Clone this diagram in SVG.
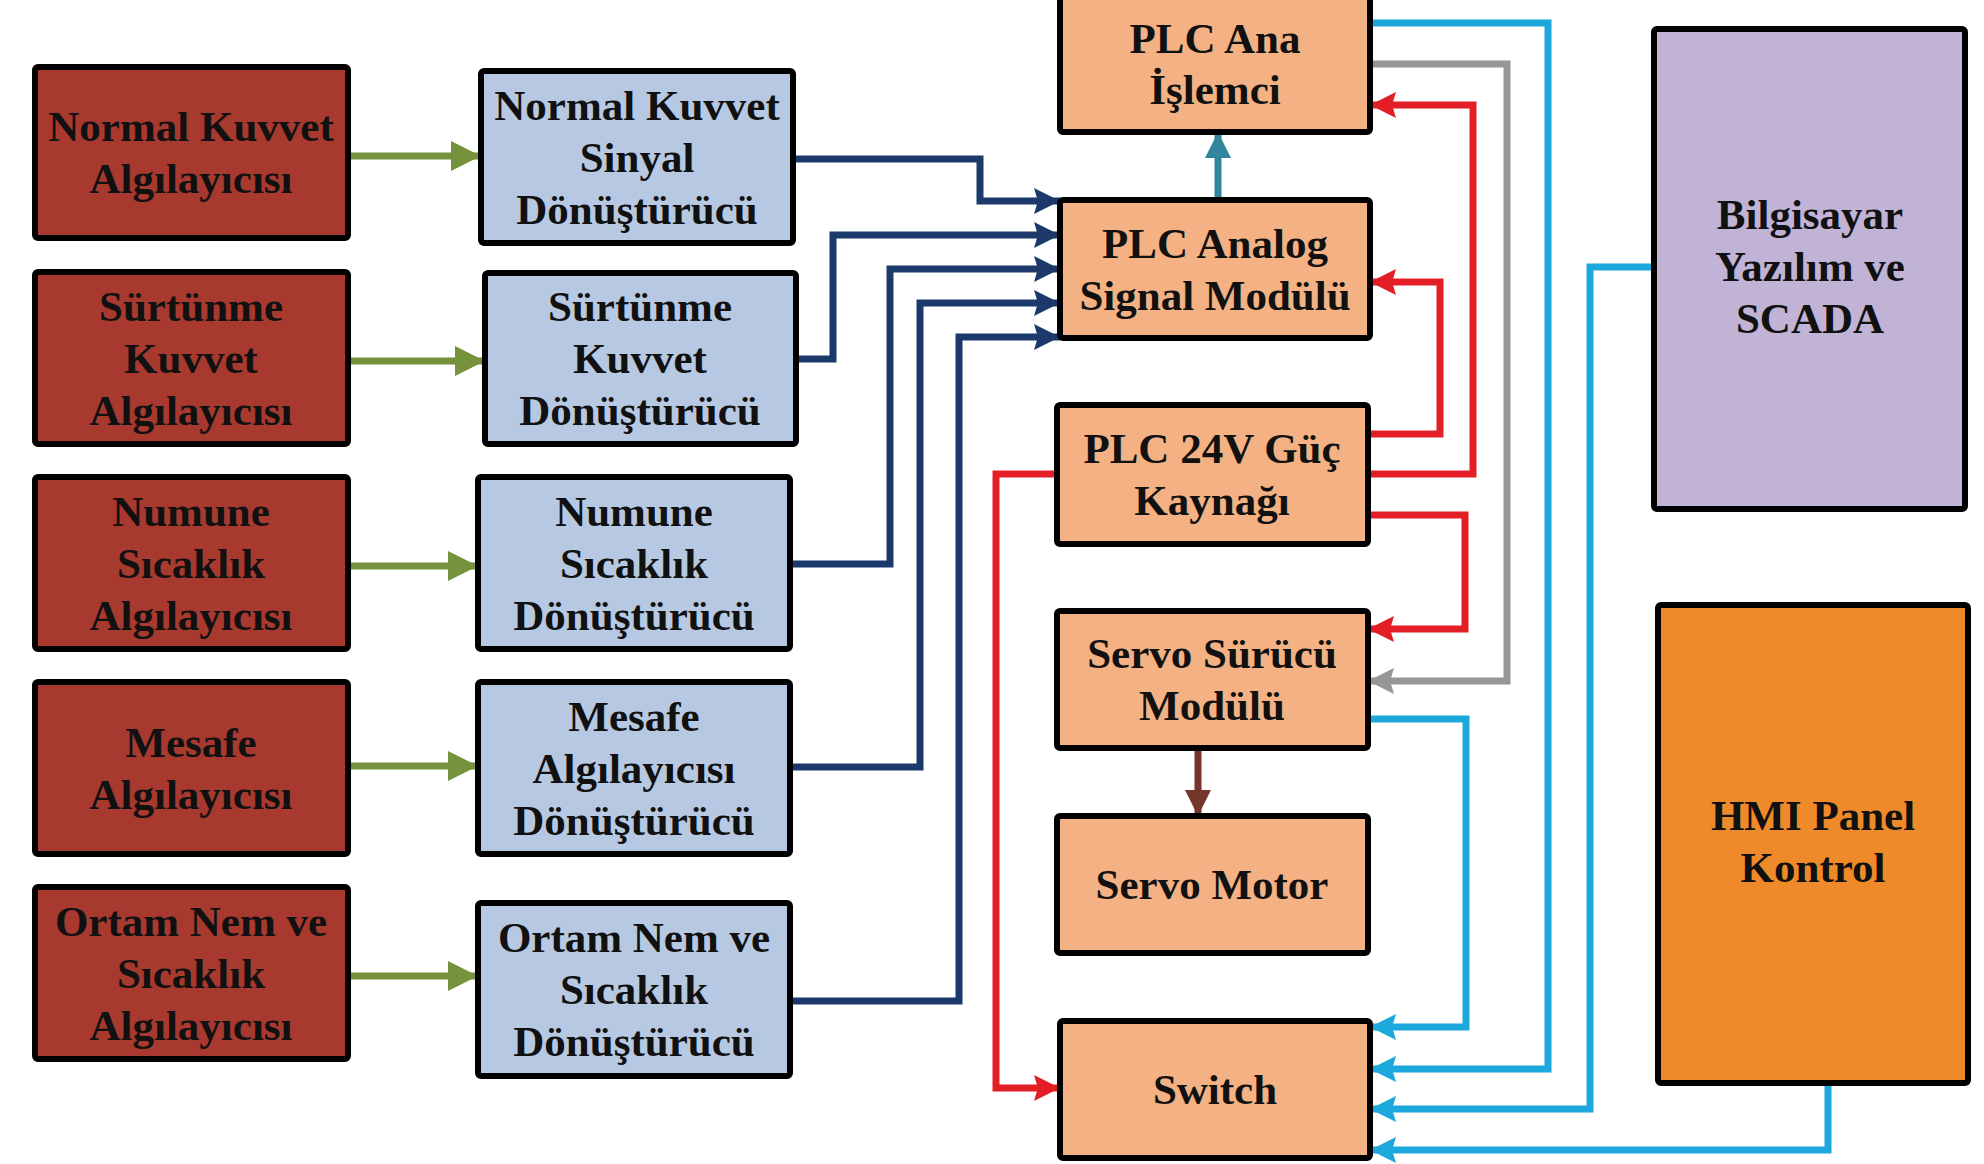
<svg xmlns="http://www.w3.org/2000/svg" width="1984" height="1164" viewBox="0 0 1984 1164">
<style>
  .box { stroke: #000; stroke-width: 6; }
  .red { fill: #A8392F; }
  .blue { fill: #B7C9E2; }
  .org { fill: #F4B183; }
  .pur { fill: #C1B3D6; }
  .hmi { fill: #EF8A2A; }
  text { font-family: "Liberation Serif", "Times New Roman", serif; font-weight: bold; font-size: 43px; fill: #111; text-anchor: middle; }
  .ln { fill: none; stroke-width: 7; stroke-linejoin: miter; }
</style>
<defs>
  <marker id="aGreen" markerUnits="userSpaceOnUse" viewBox="0 0 10 10" refX="10" refY="5" markerWidth="44" markerHeight="30" orient="auto"><path d="M0,0 L10,5 L0,10 z" fill="#76923C"/></marker>
  <marker id="aNavy" markerUnits="userSpaceOnUse" viewBox="0 0 10 10" refX="10" refY="5" markerWidth="36" markerHeight="26" orient="auto"><path d="M0,0 L10,5 L0,10 L1.5,5 z" fill="#1B3A6B"/></marker>
  <marker id="aRed" markerUnits="userSpaceOnUse" viewBox="0 0 10 10" refX="10" refY="5" markerWidth="36" markerHeight="26" orient="auto"><path d="M0,0 L10,5 L0,10 L1.5,5 z" fill="#E41E26"/></marker>
  <marker id="aGray" markerUnits="userSpaceOnUse" viewBox="0 0 10 10" refX="10" refY="5" markerWidth="36" markerHeight="26" orient="auto"><path d="M0,0 L10,5 L0,10 L1.5,5 z" fill="#969696"/></marker>
  <marker id="aLBlue" markerUnits="userSpaceOnUse" viewBox="0 0 10 10" refX="10" refY="5" markerWidth="36" markerHeight="26" orient="auto"><path d="M0,0 L10,5 L0,10 L1.5,5 z" fill="#1CA8DD"/></marker>
  <marker id="aTeal" markerUnits="userSpaceOnUse" viewBox="0 0 10 10" refX="10" refY="5" markerWidth="34" markerHeight="26" orient="auto"><path d="M0,0 L10,5 L0,10 z" fill="#31859C"/></marker>
  <marker id="aBrown" markerUnits="userSpaceOnUse" viewBox="0 0 10 10" refX="10" refY="5" markerWidth="34" markerHeight="26" orient="auto"><path d="M0,0 L10,5 L0,10 z" fill="#76352A"/></marker>
</defs>

<g id="connectors">
  <!-- green sensor -> converter -->
  <g stroke="#76923C" class="ln" stroke-width="8">
    <path d="M348,156 H481" marker-end="url(#aGreen)"/>
    <path d="M348,361 H485" marker-end="url(#aGreen)"/>
    <path d="M348,566 H478" marker-end="url(#aGreen)"/>
    <path d="M348,766 H478" marker-end="url(#aGreen)"/>
    <path d="M348,976 H478" marker-end="url(#aGreen)"/>
  </g>
  <!-- navy converter -> PLC analog -->
  <g stroke="#1B3A6B" class="ln">
    <path d="M793,159 H980 V201 H1060" marker-end="url(#aNavy)"/>
    <path d="M796,359 H833 V235 H1060" marker-end="url(#aNavy)"/>
    <path d="M790,564 H890 V269 H1060" marker-end="url(#aNavy)"/>
    <path d="M790,767 H920 V303 H1060" marker-end="url(#aNavy)"/>
    <path d="M790,1001 H959 V337 H1060" marker-end="url(#aNavy)"/>
  </g>
  <!-- teal analog -> main -->
  <path d="M1218,200 V132" stroke="#31859C" class="ln" marker-end="url(#aTeal)"/>
  <!-- brown servo driver -> motor -->
  <path d="M1198,748 V816" stroke="#76352A" class="ln" marker-end="url(#aBrown)"/>
  <!-- red power -->
  <g stroke="#E41E26" class="ln">
    <path d="M1368,434 H1440 V282 H1370" marker-end="url(#aRed)"/>
    <path d="M1368,474 H1473 V105 H1370" marker-end="url(#aRed)"/>
    <path d="M1368,515 H1465 V629 H1368" marker-end="url(#aRed)"/>
    <path d="M1057,474 H996 V1088 H1060" marker-end="url(#aRed)"/>
  </g>
  <!-- gray -->
  <path d="M1370,64 H1507 V681 H1368" stroke="#969696" class="ln" marker-end="url(#aGray)"/>
  <!-- light blue network -->
  <g stroke="#1CA8DD" class="ln">
    <path d="M1370,23 H1548 V1069 H1370" marker-end="url(#aLBlue)"/>
    <path d="M1368,719 H1466 V1027 H1370" marker-end="url(#aLBlue)"/>
    <path d="M1654,267 H1590 V1109 H1370" marker-end="url(#aLBlue)"/>
    <path d="M1828,1083 V1150 H1370" marker-end="url(#aLBlue)"/>
  </g>
</g>

<g id="s1"><rect class="box red" x="35" y="67" width="313" height="171" rx="3"/><text x="191" y="141">Normal Kuvvet</text><text x="191" y="193">Algılayıcısı</text></g>
<g id="s2"><rect class="box red" x="35" y="272" width="313" height="172" rx="3"/><text x="191" y="321">Sürtünme</text><text x="191" y="373">Kuvvet</text><text x="191" y="425">Algılayıcısı</text></g>
<g id="s3"><rect class="box red" x="35" y="477" width="313" height="172" rx="3"/><text x="191" y="526">Numune</text><text x="191" y="578">Sıcaklık</text><text x="191" y="630">Algılayıcısı</text></g>
<g id="s4"><rect class="box red" x="35" y="682" width="313" height="172" rx="3"/><text x="191" y="757">Mesafe</text><text x="191" y="809">Algılayıcısı</text></g>
<g id="s5"><rect class="box red" x="35" y="887" width="313" height="172" rx="3"/><text x="191" y="936">Ortam Nem ve</text><text x="191" y="988">Sıcaklık</text><text x="191" y="1040">Algılayıcısı</text></g>

<g id="c1"><rect class="box blue" x="481" y="71" width="312" height="172" rx="3"/><text x="637" y="120">Normal Kuvvet</text><text x="637" y="172">Sinyal</text><text x="637" y="224">Dönüştürücü</text></g>
<g id="c2"><rect class="box blue" x="485" y="273" width="311" height="171" rx="3"/><text x="640" y="321">Sürtünme</text><text x="640" y="373">Kuvvet</text><text x="640" y="425">Dönüştürücü</text></g>
<g id="c3"><rect class="box blue" x="478" y="477" width="312" height="172" rx="3"/><text x="634" y="526">Numune</text><text x="634" y="578">Sıcaklık</text><text x="634" y="630">Dönüştürücü</text></g>
<g id="c4"><rect class="box blue" x="478" y="682" width="312" height="172" rx="3"/><text x="634" y="731">Mesafe</text><text x="634" y="783">Algılayıcısı</text><text x="634" y="835">Dönüştürücü</text></g>
<g id="c5"><rect class="box blue" x="478" y="903" width="312" height="173" rx="3"/><text x="634" y="952">Ortam Nem ve</text><text x="634" y="1004">Sıcaklık</text><text x="634" y="1056">Dönüştürücü</text></g>

<g id="plcAna"><rect class="box org" x="1060" y="-4" width="310" height="136" rx="3"/><text x="1215" y="53">PLC Ana</text><text x="1215" y="104">İşlemci</text></g>
<g id="plcAnalog"><rect class="box org" x="1060" y="200" width="310" height="138" rx="3"/><text x="1215" y="258">PLC Analog</text><text x="1215" y="310">Signal Modülü</text></g>
<g id="plc24v"><rect class="box org" x="1057" y="405" width="311" height="139" rx="3"/><text x="1212" y="463">PLC 24V Güç</text><text x="1212" y="515">Kaynağı</text></g>
<g id="servoDrv"><rect class="box org" x="1057" y="611" width="311" height="137" rx="3"/><text x="1212" y="668">Servo Sürücü</text><text x="1212" y="720">Modülü</text></g>
<g id="servoMotor"><rect class="box org" x="1057" y="816" width="311" height="137" rx="3"/><text x="1212" y="899">Servo Motor</text></g>
<g id="switch"><rect class="box org" x="1060" y="1021" width="310" height="137" rx="3"/><text x="1215" y="1104">Switch</text></g>

<g id="pc"><rect class="box pur" x="1654" y="29" width="311" height="480" rx="3"/><text x="1810" y="229">Bilgisayar</text><text x="1810" y="281">Yazılım ve</text><text x="1810" y="333">SCADA</text></g>
<g id="hmi"><rect class="box hmi" x="1658" y="605" width="310" height="478" rx="3"/><text x="1813" y="830">HMI Panel</text><text x="1813" y="882">Kontrol</text></g>
</svg>
